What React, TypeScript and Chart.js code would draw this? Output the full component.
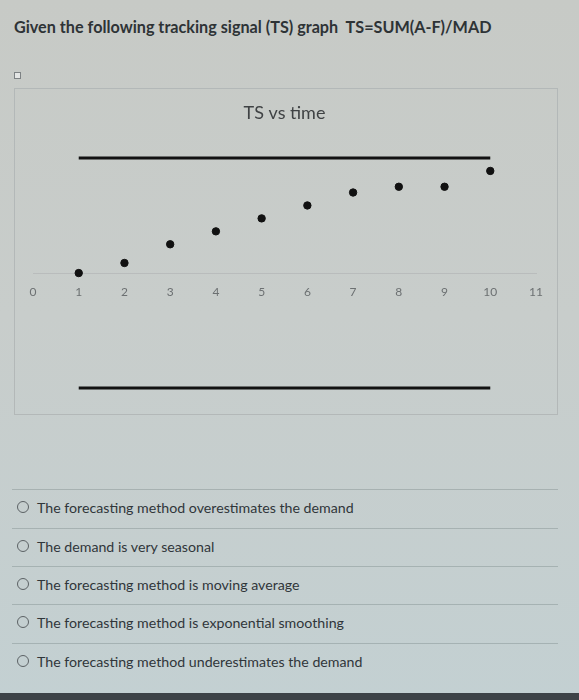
import { useEffect, useRef } from "react"
import { Chart, registerables, ChartConfiguration } from "chart.js"

Chart.register(...registerables)

// chart values
const periods = [1, 2, 3, 4, 5, 6, 7, 8, 9, 10]
const trackingSignal = [0, 0.35, 1.0, 1.45, 1.9, 2.35, 2.8, 3.0, 3.0, 3.55]
const limitPeriods = [1, 10]
const upperLimit = 4
const lowerLimit = -4
const xTickMin = 0
const xTickMax = 11

const question = "Given the following tracking signal (TS) graph\u00a0\u00a0TS=SUM(A-F)/MAD"
const answers = [
  "The forecasting method overestimates the demand",
  "The demand is very seasonal",
  "The forecasting method is moving average",
  "The forecasting method is exponential smoothing",
  "The forecasting method underestimates the demand",
]

function TrackingChart() {
  const chartRef = useRef<HTMLCanvasElement>(null)
  const chartInstance = useRef<Chart | null>(null)

  useEffect(() => {
    if (!chartRef.current) return
    if (chartInstance.current) chartInstance.current.destroy()

    const limitLine = (value: number) => ({
      data: limitPeriods.map((x) => ({ x, y: value })),
      showLine: true,
      borderColor: "#121212",
      borderWidth: 3,
      pointRadius: 0,
    })

    const config: ChartConfiguration<"scatter"> = {
      type: "scatter",
      data: {
        datasets: [
          {
            data: periods.map((x, i) => ({ x, y: trackingSignal[i] })),
            backgroundColor: "#111",
            borderColor: "#111",
            pointRadius: 3.7,
          },
          limitLine(upperLimit),
          limitLine(lowerLimit),
        ],
      },
      options: {
        responsive: true,
        maintainAspectRatio: false,
        animation: false,
        layout: { padding: { left: 18, right: 21, top: 0, bottom: 23 } },
        plugins: {
          legend: { display: false },
          tooltip: { enabled: false },
          title: {
            display: true,
            text: "TS vs time",
            color: "#3f4244",
            font: { family: "Lato", size: 18, weight: "normal" },
            padding: { top: 13, bottom: 20 },
          },
        },
        scales: {
          x: {
            type: "linear",
            min: xTickMin,
            max: xTickMax,
            position: { y: 0 },
            grid: { display: false },
            border: { display: true, color: "#b9bcbc", width: 1 },
            ticks: {
              stepSize: 1,
              padding: 4,
              color: "#6c7072",
              font: { family: "Lato", size: 12 },
            },
          },
          y: {
            display: false,
            min: -4.1,
            max: 4.5,
          },
        },
      },
    }

    chartInstance.current = new Chart(chartRef.current, config)

    return () => {
      if (chartInstance.current) {
        chartInstance.current.destroy()
        chartInstance.current = null
      }
    }
  }, [])

  return <canvas ref={chartRef} />
}

export default function App() {
  useEffect(() => {
    document.body.style.margin = "0"
  }, [])

  const answerTops = [507, 546, 584, 622, 661]
  const separators = [489, 528, 566, 604, 643]

  return (
    <div
      style={{
        position: "relative",
        width: 579,
        height: 700,
        overflow: "hidden",
        background: "linear-gradient(180deg, #c7cac6 0%, #c8cdcb 45%, #c3d0d2 100%)",
        fontFamily: "Lato, 'Open Sans', sans-serif",
      }}
    >
      <div
        style={{
          position: "absolute",
          left: 14,
          top: 17,
          fontSize: 16.2,
          fontWeight: 700,
          color: "#2e3336",
          whiteSpace: "nowrap",
        }}
      >
        {question}
      </div>

      <div
        style={{
          position: "absolute",
          left: 14,
          top: 72,
          width: 5,
          height: 5,
          border: "1px solid #7d8284",
          background: "#e4e6e5",
        }}
      />

      <div
        style={{
          position: "absolute",
          left: 14,
          top: 88,
          width: 542,
          height: 325,
          border: "1px solid #b3b8b8",
        }}
      >
        <TrackingChart />
      </div>

      {separators.map((top) => (
        <div
          key={top}
          style={{
            position: "absolute",
            left: 12,
            top,
            width: 546,
            height: 1,
            background: "rgba(110,122,124,0.35)",
          }}
        />
      ))}

      {answers.map((text, i) => (
        <div
          key={text}
          style={{
            position: "absolute",
            left: 17,
            top: answerTops[i] - 9,
            height: 18,
            display: "flex",
            alignItems: "center",
            whiteSpace: "nowrap",
            fontSize: 14.2,
            color: "#30363a",
          }}
        >
          <span
            style={{
              display: "inline-block",
              width: 10,
              height: 10,
              borderRadius: "50%",
              border: "1.5px solid #5c6265",
              marginRight: 8,
            }}
          />
          {text}
        </div>
      ))}

      <div
        style={{
          position: "absolute",
          left: 0,
          top: 693,
          width: 579,
          height: 7,
          background: "#3d4347",
        }}
      />
    </div>
  )
}
